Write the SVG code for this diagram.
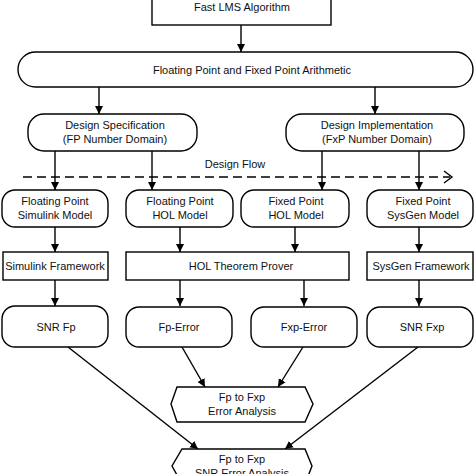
<svg xmlns="http://www.w3.org/2000/svg" width="474" height="474" viewBox="0 0 474 474">
<defs>
<marker id="ah" markerUnits="userSpaceOnUse" markerWidth="9" markerHeight="9" refX="8" refY="4" orient="auto">
<path d="M0,0 L8,4 L0,8 z" fill="#000"/>
</marker>
<style>
.b{fill:#fff;stroke:#000;stroke-width:1.4}
.t{font-family:"Liberation Sans",Arial,sans-serif;font-size:11px;fill:#111;text-anchor:middle}
.c{stroke:#000;stroke-width:1.4;fill:none;marker-end:url(#ah)}
</style>
</defs>
<rect width="474" height="474" fill="#fff"/>
<g id="connectors">
<line class="c" x1="241" y1="25" x2="241" y2="52"/>
<line class="c" x1="99" y1="87" x2="99" y2="114"/>
<line class="c" x1="375" y1="87" x2="375" y2="114"/>
<line class="c" x1="55" y1="151" x2="55" y2="190"/>
<line class="c" x1="152" y1="151" x2="152" y2="190"/>
<line class="c" x1="322" y1="151" x2="322" y2="190"/>
<line class="c" x1="419" y1="151" x2="419" y2="190"/>
<line class="c" x1="55" y1="227" x2="55" y2="252"/>
<line class="c" x1="180" y1="227" x2="180" y2="252"/>
<line class="c" x1="295" y1="227" x2="295" y2="252"/>
<line class="c" x1="419" y1="227" x2="419" y2="252"/>
<line class="c" x1="55" y1="280" x2="55" y2="306"/>
<line class="c" x1="180" y1="280" x2="180" y2="306"/>
<line class="c" x1="304" y1="280" x2="304" y2="306"/>
<line class="c" x1="419" y1="280" x2="419" y2="306"/>
<line class="c" x1="68" y1="347" x2="198" y2="449"/>
<line class="c" x1="182" y1="347" x2="205" y2="387"/>
<line class="c" x1="303" y1="347" x2="278" y2="387"/>
<line class="c" x1="418" y1="347" x2="285" y2="449"/>
<g id="design-flow">
<line x1="23" y1="177" x2="450" y2="177" stroke="#000" stroke-width="1.4" stroke-dasharray="9,5"/>
<polyline points="444,171 452,177 444,183" fill="none" stroke="#000" stroke-width="1.4"/>
<text class="t" x="235" y="168">Design Flow</text>
</g>
</g>
<g id="fast-lms">
<rect class="b" x="152" y="-5" width="179" height="30"/>
<text class="t" x="242" y="11">Fast LMS Algorithm</text>
</g>
<g id="arith">
<rect class="b" x="18" y="52" width="455" height="35" rx="17.5"/>
<text class="t" x="252" y="74">Floating Point and Fixed Point Arithmetic</text>
</g>
<g id="design-spec">
<rect class="b" x="28" y="114" width="169" height="37" rx="16"/>
<text class="t" x="115" y="129">Design Specification</text>
<text class="t" x="115" y="143">(FP Number Domain)</text>
</g>
<g id="design-impl">
<rect class="b" x="286" y="114" width="178" height="37" rx="16"/>
<text class="t" x="377" y="129">Design Implementation</text>
<text class="t" x="377" y="143">(FxP Number Domain)</text>
</g>
<g id="fp-simulink">
<rect class="b" x="2" y="190" width="106" height="37" rx="13"/>
<text class="t" x="55" y="205">Floating Point</text>
<text class="t" x="55" y="219">Simulink Model</text>
</g>
<g id="fp-hol">
<rect class="b" x="126" y="190" width="107" height="37" rx="13"/>
<text class="t" x="180" y="205">Floating Point</text>
<text class="t" x="180" y="219">HOL Model</text>
</g>
<g id="fxp-hol">
<rect class="b" x="241" y="190" width="108" height="37" rx="13"/>
<text class="t" x="296" y="205">Fixed Point</text>
<text class="t" x="296" y="219">HOL Model</text>
</g>
<g id="fxp-sysgen">
<rect class="b" x="367" y="190" width="106" height="37" rx="13"/>
<text class="t" x="423" y="205">Fixed Point</text>
<text class="t" x="423" y="219">SysGen Model</text>
</g>
<g id="simulink-fw">
<rect class="b" x="3" y="252" width="105" height="28"/>
<text class="t" x="55" y="270">Simulink Framework</text>
</g>
<g id="hol-prover">
<rect class="b" x="126" y="252" width="223" height="28"/>
<text class="t" x="241" y="270">HOL Theorem Prover</text>
</g>
<g id="sysgen-fw">
<rect class="b" x="367" y="252" width="106" height="28"/>
<text class="t" x="421" y="270">SysGen Framework</text>
</g>
<g id="snr-fp">
<rect class="b" x="2" y="306" width="106" height="41" rx="13"/>
<text class="t" x="56" y="331">SNR Fp</text>
</g>
<g id="fp-error">
<rect class="b" x="126" y="307" width="106" height="40" rx="13"/>
<text class="t" x="179" y="331">Fp-Error</text>
</g>
<g id="fxp-error">
<rect class="b" x="251" y="307" width="106" height="40" rx="13"/>
<text class="t" x="304" y="331">Fxp-Error</text>
</g>
<g id="snr-fxp">
<rect class="b" x="367" y="307" width="106" height="40" rx="13"/>
<text class="t" x="422" y="331">SNR Fxp</text>
</g>
<g id="error-analysis">
<polygon class="b" points="177,387 305,387 313,404 305,422 177,422 171,404"/>
<text class="t" x="242" y="401">Fp to Fxp</text>
<text class="t" x="242" y="415">Error Analysis</text>
</g>
<g id="snr-error-analysis">
<polygon class="b" points="182,449 305,449 312,466 305,484 182,484 172,466"/>
<text class="t" x="242" y="463">Fp to Fxp</text>
<text class="t" x="242" y="477">SNR Error Analysis</text>
</g>
</svg>
